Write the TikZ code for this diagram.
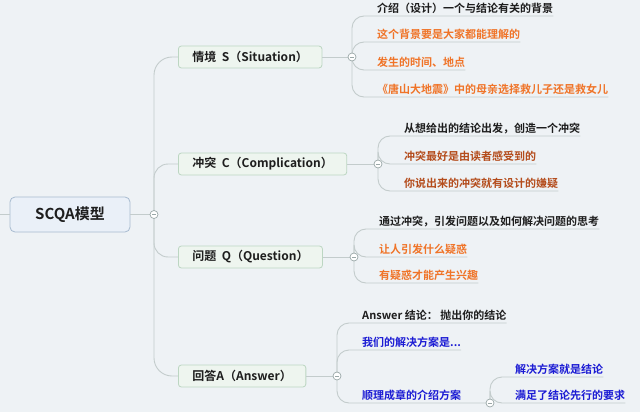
\documentclass[tikz,border=0pt]{standalone}
\usepackage{fontspec}
\setmainfont{Noto Sans CJK SC}[BoldFont={Noto Sans CJK SC Bold}]
\definecolor{bg}{HTML}{EEF2F5}
\definecolor{lineC}{HTML}{C3CCCC}
\definecolor{hubD}{HTML}{9AA8A8}
\definecolor{boxD}{HTML}{BCD6C2}
\definecolor{boxF}{HTML}{EEF5EF}
\definecolor{mainD}{HTML}{A8BBD0}
\definecolor{mainF}{HTML}{EAF0F8}
\definecolor{txt}{HTML}{1E1E1E}
\definecolor{orng}{HTML}{F07428}
\definecolor{brwn}{HTML}{B44C1C}
\definecolor{blu}{HTML}{1C1CD4}
\begin{document}
\begin{tikzpicture}[x=1pt,y=-1pt,
  conn/.style={draw=lineC, line width=0.9pt, rounded corners=12pt},
  hubc/.style={circle, draw=hubD, fill=white, line width=0.7pt, minimum size=8pt, inner sep=0pt},
  branch/.style={draw=boxD, fill=boxF, rounded corners=3pt, line width=0.8pt, anchor=west, minimum height=22pt, inner xsep=14pt, inner ysep=0pt, font=\fontsize{12}{14}\selectfont\bfseries, text=txt},
  leaf/.style={anchor=south west, inner xsep=0pt, inner ysep=1.5pt, text height=9pt, text depth=2pt, font=\fontsize{11}{13}\selectfont\bfseries},
  blk/.style={leaf, text=txt},
  org/.style={leaf, text=orng},
  brn/.style={leaf, text=brwn},
  blue/.style={leaf, text=blu}
]
\useasboundingbox (0,0) rectangle (640,412);
\fill[bg] (0,0) rectangle (640,412);

% central topic
\node[draw=mainD, fill=mainF, rounded corners=5pt, line width=0.8pt, minimum width=120pt, minimum height=35pt, font=\fontsize{15}{17}\selectfont\bfseries, text=txt] (main) at (70,214.5) {SCQA模型};
\coordinate (lin) at (0,214.5);
\coordinate (h0) at (154,214.5);

% branches
\node[branch] (S) at (178,57) {情境\ \ S（Situation）};
\node[branch] (C) at (178,164) {冲突\ \ C（Complication）};
\node[branch] (Q) at (178,257) {问题\ \ Q（Question）};
\node[branch] (A) at (178,376) {回答A（Answer）};

\coordinate (hS) at (352,57);
\coordinate (hC) at (378,164);
\coordinate (hQ) at (354,257);
\coordinate (hA) at (337,376);
\coordinate (hA3) at (490,403);

% leaves
\node[blk] (S1) at (377,16) {介绍（设计）一个与结论有关的背景};
\node[org] (S2) at (377,42) {这个背景要是大家都能理解的};
\node[org] (S3) at (377,70) {发生的时间、地点};
\node[org] (S4) at (377,97) {《唐山大地震》中的母亲选择救儿子还是救女儿};

\node[blk] (C1) at (404,136) {从想给出的结论出发，创造一个冲突};
\node[brn] (C2) at (404,164) {冲突最好是由读者感受到的};
\node[brn] (C3) at (404,191) {你说出来的冲突就有设计的嫌疑};

\node[blk] (Q1) at (379,229) {通过冲突，引发问题以及如何解决问题的思考};
\node[org] (Q2) at (379,257) {让人引发什么疑惑};
\node[org] (Q3) at (379,283) {有疑惑才能产生兴趣};

\node[blk] (A1) at (362,323) {Answer 结论： 抛出你的结论};
\node[blue] (A2) at (362,350) {我们的解决方案是...};
\node[blue] (A3) at (362,403) {顺理成章的介绍方案};
\node[blue] (A3a) at (515,377) {解决方案就是结论};
\node[blue] (A3b) at (515,403) {满足了结论先行的要求};

% connectors
\draw[conn] (lin) -- (main.west);
\draw[conn] (main.east) -- (h0);
\draw[conn, rounded corners=18pt] (h0) |- (S.west);
\draw[conn, rounded corners=14pt] (h0) |- (C.west);
\draw[conn, rounded corners=14pt] (h0) |- (Q.west);
\draw[conn, rounded corners=18pt] (h0) |- (A.west);

\draw[conn] (S.east) -- (hS);
\draw[conn] (C.east) -- (hC);
\draw[conn] (Q.east) -- (hQ);
\draw[conn] (A.east) -- (hA);

\foreach \l in {S1,S2,S3,S4} \draw[conn] (hS) |- (\l.south east);
\foreach \l in {C1,C2,C3} \draw[conn] (hC) |- (\l.south east);
\foreach \l in {Q1,Q2,Q3} \draw[conn] (hQ) |- (\l.south east);
\foreach \l in {A1,A2} \draw[conn] (hA) |- (\l.south east);
\draw[conn] (hA) |- (hA3);
\foreach \l in {A3a,A3b} \draw[conn] (hA3) |- (\l.south east);

% collapse markers
\foreach \h in {h0,hS,hC,hQ,hA,hA3} {
  \node[hubc] (m\h) at (\h) {};
  \draw[hubD, line width=0.7pt] ([xshift=-2pt]m\h.center) -- ([xshift=2pt]m\h.center);
}
\end{tikzpicture}
\end{document}
